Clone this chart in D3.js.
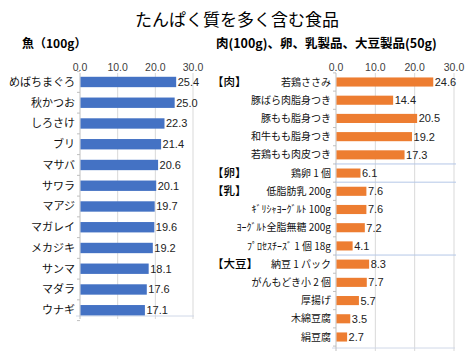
<!DOCTYPE html>
<html><head><meta charset="utf-8">
<script src="https://cdn.jsdelivr.net/npm/d3@7"></script>
<style>
html,body{margin:0;padding:0;background:#fff;}
svg{display:block;font-family:"Noto Sans CJK JP","Noto Sans",sans-serif;}
</style></head>
<body>
<svg id="c" width="474" height="355"></svg>
<script>
const fishNames = ["めばちまぐろ","秋かつお","しろさけ","ブリ","マサバ","サワラ","マアジ","マガレイ","メカジキ","サンマ","マダラ","ウナギ"];
const fishValues = [25.4,25.0,22.3,21.4,20.6,20.1,19.7,19.6,19.2,18.1,17.6,17.1];
const otherNames = ["若鶏ささみ","豚ばら肉脂身つき","豚もも脂身つき","和牛もも脂身つき","若鶏もも肉皮つき","鶏卵 1 個","低脂肪乳 200g","ｷﾞﾘｼｬﾖｰｸﾞﾙﾄ 100g","ﾖｰｸﾞﾙﾄ全脂無糖 200g","ﾌﾟﾛｾｽﾁｰｽﾞ 1 個 18g","納豆 1 パック","がんもどき小 2 個","厚揚げ","木綿豆腐","絹豆腐"];
const otherValues = [24.6,14.4,20.5,19.2,17.3,6.1,7.6,7.6,7.2,4.1,8.3,7.7,5.7,3.5,2.7];
const groupLabels = ["【肉】","【卵】","【乳】","【大豆】"];
const groupStarts = [0,5,6,10];
const tickValues = [0,10,20,30];
const titleText = "たんぱく質を多く含む食品";
const fishTitle = "魚（100g）";
const otherTitle = "肉(100g)、卵、乳製品、大豆製品(50g)";

const svg = d3.select("#c");
svg.append("text").attr("x",237).attr("y",26).attr("text-anchor","middle")
  .attr("font-size",17).attr("fill","#000").text(titleText);
svg.append("text").attr("x",22).attr("y",48).attr("font-size",12).attr("font-weight","bold").attr("fill","#000").text(fishTitle);
svg.append("text").attr("x",216).attr("y",48).attr("font-size",12.5).attr("font-weight","bold").attr("fill","#000").text(otherTitle);

function panel(cfg){
  const x = d3.scaleLinear().domain([0,30]).range(cfg.xr);
  const y = d3.scaleBand().domain(cfg.names).range(cfg.yr).paddingInner(cfg.pad).paddingOuter(cfg.pad/2);
  const g = svg.append("g");
  g.selectAll("line.grid").data(tickValues.slice(1)).join("line")
    .attr("x1",d=>x(d)).attr("x2",d=>x(d)).attr("y1",cfg.gy[0]).attr("y2",cfg.gy[1]+3)
    .attr("stroke","#d9d9d9").attr("stroke-width",1);
  g.selectAll("text.tick").data(tickValues).join("text")
    .attr("x",d=>x(d)).attr("y",cfg.gy[0]-2).attr("text-anchor","middle")
    .attr("font-size",10.5).attr("fill","#404040").attr("font-family","Liberation Sans, Arial, sans-serif")
    .text(d=>d3.format(".1f")(d));
  g.append("line").attr("x1",x(0)-4).attr("x2",x(30)+1).attr("y1",cfg.gy[1]).attr("y2",cfg.gy[1])
    .attr("stroke","#d0d8e8").attr("stroke-width",1);
  g.append("line").attr("x1",x(0)).attr("x2",x(0)).attr("y1",cfg.gy[0]).attr("y2",cfg.gy[1]+3)
    .attr("stroke","#bfbfbf").attr("stroke-width",1);
  const step = y.step();
  g.selectAll("line.tk").data(d3.range(cfg.names.length+1)).join("line")
    .attr("x1",x(0)-3).attr("x2",x(0))
    .attr("y1",i=>cfg.yr[0]+i*step).attr("y2",i=>cfg.yr[0]+i*step)
    .attr("stroke","#bfbfbf");
  g.selectAll("rect").data(cfg.values).join("rect")
    .attr("x",x(0)+0.5).attr("y",(d,i)=>y(cfg.names[i]))
    .attr("width",d=>x(d)-x(0)).attr("height",y.bandwidth())
    .attr("fill",cfg.color);
  g.selectAll("text.val").data(cfg.values).join("text")
    .attr("x",d=>x(d)+2).attr("y",(d,i)=>y(cfg.names[i])+y.bandwidth()/2)
    .attr("dy","0.36em").attr("font-size",cfg.vfs).attr("fill","#222")
    .attr("font-family","Liberation Sans, Arial, sans-serif")
    .text(d=>d3.format(".1f")(d));
  g.selectAll("text.cat").data(cfg.names).join("text")
    .attr("x",x(0)-5).attr("y",d=>y(d)+y.bandwidth()/2).attr("dy","0.36em")
    .attr("text-anchor","end").attr("font-size",cfg.cfs).attr("fill","#111").text(d=>d);
  return {x,y,g};
}

panel({names:fishNames,values:fishValues,xr:[80,193],yr:[71.6,320.6],pad:0.5,gy:[73,316],color:"#4472C4",vfs:11,cfs:11});
const p2 = panel({names:otherNames,values:otherValues,xr:[336,454],yr:[72.9,346.1],pad:0.5,gy:[73,348],color:"#ED7D31",vfs:11,cfs:10});

const sepIdx = [5,6,10];
p2.g.selectAll("line.sep").data(sepIdx).join("line")
  .attr("x1",335).attr("x2",456)
  .attr("y1",i=>p2.y(otherNames[i]) - p2.y.step()*p2.y.paddingInner()/2)
  .attr("y2",i=>p2.y(otherNames[i]) - p2.y.step()*p2.y.paddingInner()/2)
  .attr("stroke","#b4c7e7").attr("stroke-width",1);
svg.selectAll("text.grp").data(groupLabels).join("text")
  .attr("x",212).attr("y",(d,i)=>p2.y(otherNames[groupStarts[i]])+p2.y.bandwidth()/2)
  .attr("dy","0.36em").attr("font-size",11.5).attr("font-weight",500).attr("fill","#000").text(d=>d);
</script>
</body></html>
